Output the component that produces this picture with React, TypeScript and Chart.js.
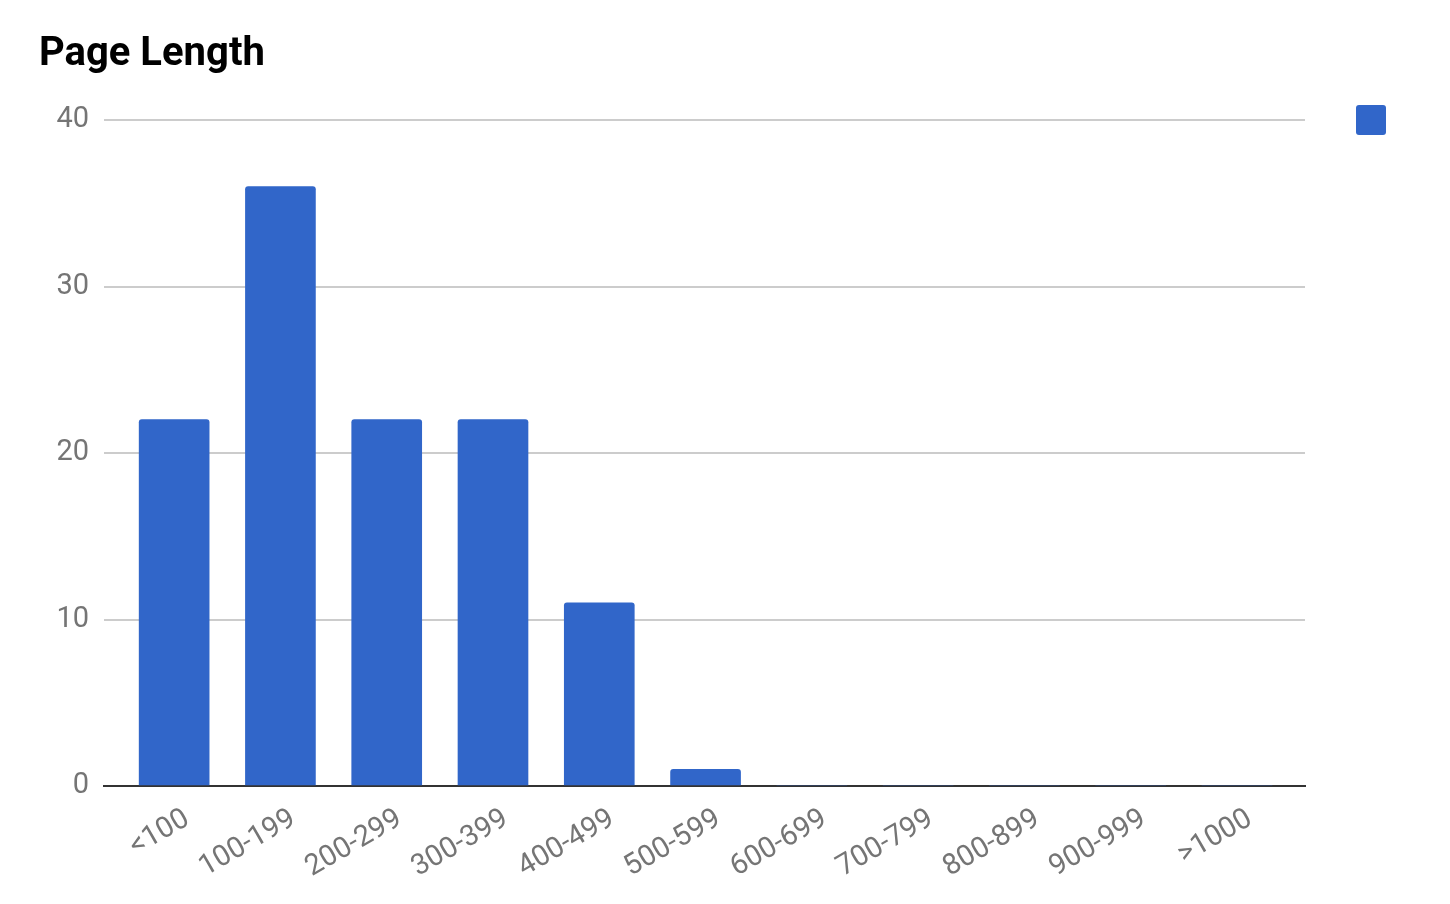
import React, { useEffect, useRef } from "react";
import { Chart, registerables } from "chart.js";

Chart.register(...registerables);

const chartTitle = "Page Length";
const categories = ["<100", "100-199", "200-299", "300-399", "400-499", "500-599", "600-699", "700-799", "800-899", "900-999", ">1000"];
const pageCounts = [22, 36, 22, 22, 11, 1, 0, 0, 0, 0, 0];
const yTicks = [0, 10, 20, 30, 40];
const seriesLabel = "";

export default function App() {
  const canvasRef = useRef<HTMLCanvasElement | null>(null);

  useEffect(() => {
    document.body.style.margin = "0";
    const canvas = canvasRef.current;
    if (!canvas) return;
    Chart.defaults.font.family = "Roboto";

    const chart = new Chart(canvas, {
      type: "bar",
      data: {
        datasets: [
          {
            label: seriesLabel,
            data: categories.map((_, i) => ({ x: i, y: pageCounts[i] })),
            backgroundColor: "#3166c9",
            borderWidth: 0,
            borderRadius: { topLeft: 3, topRight: 3, bottomLeft: 0, bottomRight: 0 },
            borderSkipped: "bottom",
            barThickness: 70,
          },
        ],
      },
      options: {
        responsive: false,
        devicePixelRatio: 1,
        animation: false,
        layout: { padding: { top: 54, right: 48, left: 39, bottom: 0 } },
        plugins: {
          title: {
            display: true,
            text: chartTitle,
            align: "start",
            color: "#000000",
            font: { size: 40, weight: "bold", family: "Roboto" },
            padding: { top: -23, bottom: 41 },
          },
          legend: {
            display: true,
            position: "right",
            align: "start",
            labels: {
              boxWidth: 30,
              boxHeight: 30,
              padding: 51,
              useBorderRadius: true,
              borderRadius: 3,
              font: { size: 12 },
            },
          },
          tooltip: { enabled: false },
        },
        scales: {
          x: {
            type: "linear",
            offset: false,
            min: -0.66,
            max: 10.64,
            afterBuildTicks: (scale: any) => {
              scale.ticks = categories.map((_, i) => ({ value: i }));
            },
            afterFit: (scale: any) => {
              scale.height = 118;
            },
            grid: { display: false, drawTicks: false, offset: false },
            border: { display: true, color: "#333333", width: 2 },
            ticks: {
              autoSkip: false,
              minRotation: 30,
              maxRotation: 30,
              padding: 16,
              labelOffset: 13,
              color: "#757575",
              font: { size: 29, family: "Roboto" },
              callback: (v: any) => categories[v] ?? "",
            },
          },
          y: {
            min: 0,
            max: 40,
            afterBuildTicks: (scale: any) => {
              scale.ticks = yTicks.map((v) => ({ value: v }));
            },
            afterFit: (scale: any) => {
              scale.width = 65;
            },
            grid: {
              drawTicks: false,
              lineWidth: 2,
              color: (ctx: any) => (ctx.tick && ctx.tick.value === 0 ? "#333333" : "#cccccc"),
            },
            border: { display: false },
            ticks: {
              padding: 15,
              color: "#757575",
              font: { size: 29, family: "Roboto" },
            },
          },
        },
      },
    });

    return () => chart.destroy();
  }, []);

  return (
    <div style={{ width: 1450, height: 904, background: "#ffffff" }}>
      <canvas ref={canvasRef} width={1450} height={904} />
    </div>
  );
}
